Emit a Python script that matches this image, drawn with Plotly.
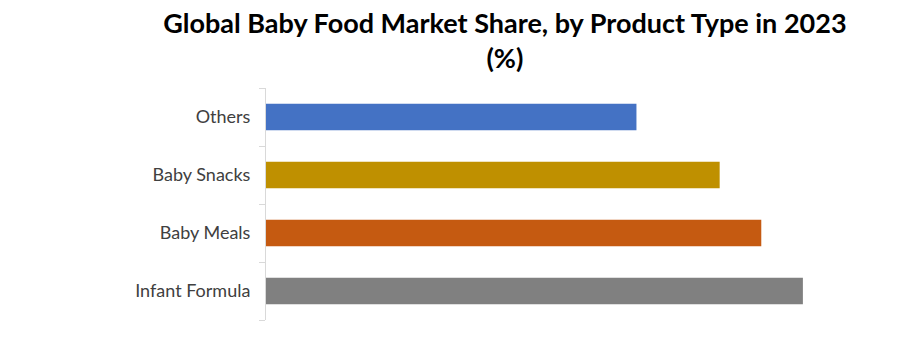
import plotly.graph_objects as go

categories = ["Infant Formula", "Baby Meals", "Baby Snacks", "Others"]
values = [40.0, 36.9, 33.8, 27.6]
colors = ["#808080", "#C55A11", "#BF9000", "#4472C4"]

fig = go.Figure(go.Bar(
    x=values, y=categories, orientation="h",
    marker=dict(color=colors, line=dict(width=0)),
    width=0.46, hoverinfo="x+y",
))

fig.update_layout(
    width=900, height=346,
    margin=dict(l=266, r=30, t=88, b=26),
    paper_bgcolor="white", plot_bgcolor="white",
    showlegend=False,
    title=dict(
        text="<b>Global Baby Food Market Share, by Product Type in 2023<br>(%)</b>",
        x=0.561, xanchor="center", xref="container",
        y=0.904, yanchor="top", yref="container",
        font=dict(family="Lato", size=27, color="black"),
    ),
    xaxis=dict(range=[0, 45.0], visible=False, fixedrange=True),
    yaxis=dict(
        showline=True, linecolor="#D9D9D9", linewidth=1,
        ticks="outside", ticklen=6, tickcolor="#D9D9D9",
        tickson="boundaries",
        showgrid=False, zeroline=False,
        tickfont=dict(family="Lato", size=18, color="#404040"),
        ticklabelstandoff=11,
    ),
)

fig.write_html("out.html")
